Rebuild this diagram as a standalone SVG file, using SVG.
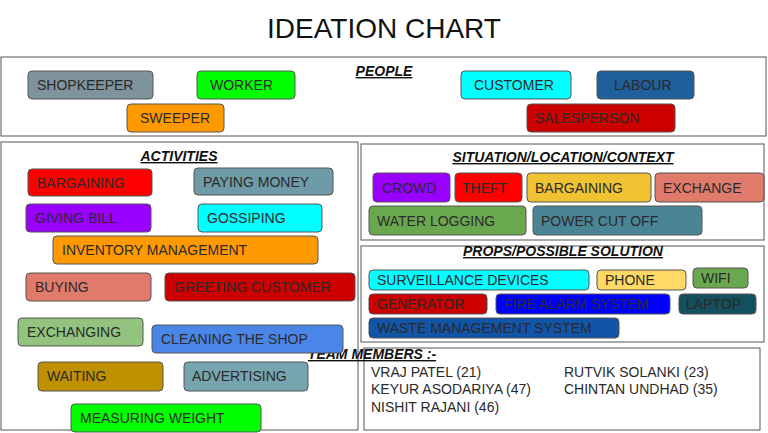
<svg xmlns="http://www.w3.org/2000/svg" width="768" height="433" viewBox="0 0 768 433">
<style>
.sec{fill:#fff;stroke:#555;stroke-width:1}
.n rect{stroke:#555;stroke-width:1;rx:4}
.n text,.t{font-family:"Liberation Sans",Arial,sans-serif;font-size:14px;fill:#2a2a2a}
.n text{dominant-baseline:central}
.h{font-family:"Liberation Sans",Arial,sans-serif;font-size:14px;font-weight:bold;font-style:italic;text-decoration:underline;fill:#111;text-anchor:middle}
</style>
<rect width="768" height="433" fill="#fff"/>
<text x="384" y="38" text-anchor="middle" font-family="Liberation Sans,Arial,sans-serif" font-size="28" fill="#111">IDEATION CHART</text>
<rect class="sec" x="1" y="57" width="765" height="79"/>
<rect class="sec" x="1" y="142" width="357" height="288"/>
<rect class="sec" x="361" y="144" width="403" height="96"/>
<rect class="sec" x="361" y="246" width="403" height="96"/>
<rect class="sec" x="364" y="348" width="396" height="82"/>
<text class="h" x="384" y="76">PEOPLE</text>
<text class="h" x="179" y="161">ACTIVITIES</text>
<text class="h" x="563" y="162">SITUATION/LOCATION/CONTEXT</text>
<text class="h" x="563" y="256">PROPS/POSSIBLE SOLUTION</text>
<text class="h" x="372" y="359" text-anchor="start">TEAM MEMBERS :-</text>
<g id="shopkeeper" class="n"><rect x="28" y="71" width="125" height="28" fill="#7f939c"/><text x="37" y="85">SHOPKEEPER</text></g>
<g id="worker" class="n"><rect x="197" y="71" width="98" height="28" fill="#00ff00"/><text x="210" y="85">WORKER</text></g>
<g id="customer" class="n"><rect x="461" y="71" width="110" height="28" fill="#00ffff"/><text x="474" y="85">CUSTOMER</text></g>
<g id="labour" class="n"><rect x="597" y="71" width="97" height="28" fill="#1f5f9c"/><text x="614" y="85">LABOUR</text></g>
<g id="sweeper" class="n"><rect x="127" y="104" width="97" height="28" fill="#ff9900"/><text x="140" y="118">SWEEPER</text></g>
<g id="salesperson" class="n"><rect x="527" y="104" width="148" height="28" fill="#cc0000"/><text x="535" y="118">SALESPERSON</text></g>
<g id="a-bargaining" class="n"><rect x="28" y="169" width="124" height="27" fill="#ff0000"/><text x="37" y="183">BARGAINING</text></g>
<g id="paying" class="n"><rect x="194" y="168" width="139" height="27" fill="#6f9ba8"/><text x="203" y="182">PAYING MONEY</text></g>
<g id="givingbill" class="n"><rect x="26" y="204" width="125" height="28" fill="#9900ff"/><text x="35" y="218">GIVING BILL</text></g>
<g id="gossiping" class="n"><rect x="198" y="204" width="124" height="28" fill="#00ffff"/><text x="207" y="218">GOSSIPING</text></g>
<g id="inventory" class="n"><rect x="53" y="236" width="265" height="28" fill="#ff9900"/><text x="62" y="250">INVENTORY MANAGEMENT</text></g>
<g id="buying" class="n"><rect x="26" y="273" width="125" height="28" fill="#e07a6a"/><text x="35" y="287">BUYING</text></g>
<g id="greeting" class="n"><rect x="165" y="273" width="190" height="28" fill="#cc0000"/><text x="174" y="287">GREETING CUSTOMER</text></g>
<g id="exchanging" class="n"><rect x="18" y="318" width="125" height="28" fill="#93c47d"/><text x="27" y="332">EXCHANGING</text></g>
<g id="cleaning" class="n"><rect x="152" y="325" width="191" height="28" fill="#4a86e8"/><text x="161" y="339">CLEANING THE SHOP</text></g>
<g id="waiting" class="n"><rect x="38" y="362" width="125" height="29" fill="#bf9000"/><text x="47" y="376">WAITING</text></g>
<g id="advertising" class="n"><rect x="184" y="362" width="124" height="29" fill="#76a5af"/><text x="192" y="376">ADVERTISING</text></g>
<g id="measuring" class="n"><rect x="71" y="404" width="190" height="28" fill="#00ff00"/><text x="80" y="418">MEASURING WEIGHT</text></g>
<g id="crowd" class="n"><rect x="373" y="173" width="77" height="29" fill="#9900ff"/><text x="382" y="188">CROWD</text></g>
<g id="theft" class="n"><rect x="455" y="173" width="67" height="29" fill="#ff0000"/><text x="462" y="188">THEFT</text></g>
<g id="s-bargaining" class="n"><rect x="527" y="173" width="124" height="29" fill="#f1c232"/><text x="535" y="188">BARGAINING</text></g>
<g id="exchange" class="n"><rect x="655" y="173" width="109" height="29" fill="#e07a6a"/><text x="663" y="188">EXCHANGE</text></g>
<g id="waterlogging" class="n"><rect x="369" y="206" width="157" height="29" fill="#6aa84f"/><text x="377" y="221">WATER LOGGING</text></g>
<g id="powercut" class="n"><rect x="533" y="206" width="169" height="29" fill="#4a8595"/><text x="541" y="221">POWER CUT OFF</text></g>
<g id="surveillance" class="n"><rect x="369" y="270" width="220" height="20" fill="#00ffff"/><text x="377" y="280">SURVEILLANCE DEVICES</text></g>
<g id="phone" class="n"><rect x="597" y="270" width="89" height="20" fill="#ffd966"/><text x="605" y="280">PHONE</text></g>
<g id="wifi" class="n"><rect x="693" y="268" width="55" height="20" fill="#6aa84f"/><text x="701" y="278">WIFI</text></g>
<g id="generator" class="n"><rect x="369" y="294" width="118" height="20" fill="#cc0000"/><text x="377" y="304">GENERATOR</text></g>
<g id="firealarm" class="n"><rect x="496" y="294" width="174" height="20" fill="#0000ff"/><text x="504" y="304">FIRE ALARM SYSTEM</text></g>
<g id="laptop" class="n"><rect x="679" y="294" width="77" height="20" fill="#134f5c"/><text x="686" y="304">LAPTOP</text></g>
<g id="waste" class="n"><rect x="369" y="318" width="250" height="20" fill="#1155a8"/><text x="377" y="328">WASTE MANAGEMENT SYSTEM</text></g>
<g id="team">
<text class="t" x="371" y="377">VRAJ PATEL (21)</text>
<text class="t" x="371" y="394">KEYUR ASODARIYA (47)</text>
<text class="t" x="371" y="412">NISHIT RAJANI (46)</text>
<text class="t" x="564" y="377">RUTVIK SOLANKI (23)</text>
<text class="t" x="564" y="394">CHINTAN UNDHAD (35)</text>
</g>
<g id="connectors"/>
</svg>
